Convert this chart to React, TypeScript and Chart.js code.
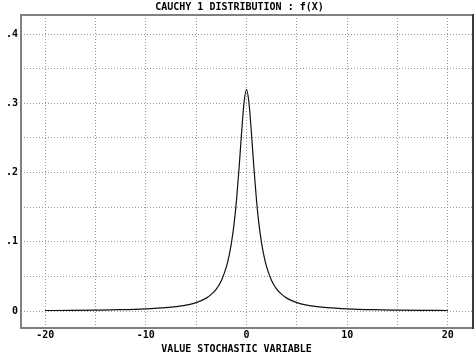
import React, { useEffect, useRef } from "react";
import { Chart, registerables } from "chart.js";

Chart.register(...registerables);

const chartTitle = "CAUCHY 1 DISTRIBUTION : f(X)";
const xAxisTitle = "VALUE STOCHASTIC VARIABLE";

const xValues = [
  -20, -17.5, -15, -12.5, -10, -8, -7, -6, -5, -4, -3.5, -3, -2.5, -2, -1.75, -1.5, -1.25, -1, -0.75, -0.5, -0.25,
  0,
  0.25, 0.5, 0.75, 1, 1.25, 1.5, 1.75, 2, 2.5, 3, 3.5, 4, 5, 6, 7, 8, 10, 12.5, 15, 17.5, 20,
];
const yValues = [
  0.0008, 0.001, 0.0014, 0.002, 0.0032, 0.0049, 0.0064, 0.0086, 0.0122, 0.0187, 0.0241, 0.0318, 0.0439, 0.0637, 0.0785, 0.098, 0.124, 0.159, 0.204, 0.255, 0.3,
  0.32,
  0.3, 0.255, 0.204, 0.159, 0.124, 0.098, 0.0785, 0.0637, 0.0439, 0.0318, 0.0241, 0.0187, 0.0122, 0.0086, 0.0064, 0.0049, 0.0032, 0.002, 0.0014, 0.001, 0.0008,
];

const xTickValues = [-20, -15, -10, -5, 0, 5, 10, 15, 20];
const xTickLabels = ["-20", "", "-10", "", "0", "", "10", "", "20"];
const yTickValues = [0, 0.05, 0.1, 0.15, 0.2, 0.25, 0.3, 0.35, 0.4];
const yTickLabels = ["0", "", ".1", "", ".2", "", ".3", "", ".4"];

const FONT = "DejaVu Sans Mono";

export default function App() {
  const ref = useRef<HTMLCanvasElement | null>(null);

  useEffect(() => {
    document.body.style.margin = "0";
    document.body.style.background = "#fff";
    const canvas = ref.current;
    if (!canvas) return;

    const framePlugin = {
      id: "frameAndTitles",
      afterDraw(chart: any) {
        const { ctx, chartArea } = chart;
        const { left, right, top, bottom } = chartArea;
        ctx.save();
        ctx.fillStyle = "#808080";
        ctx.fillRect(left - 1, top - 1, 2, bottom - top + 2);
        ctx.fillRect(left - 1, top - 1, right - left + 2, 2);
        ctx.fillRect(left - 1, bottom, right - left + 2, 2);
        ctx.fillStyle = "#3a3a3a";
        ctx.fillRect(right - 1, top - 1, 3, bottom - top + 3);
        ctx.fillStyle = "#000";
        ctx.font = `bold 10px "${FONT}"`;
        ctx.textAlign = "center";
        ctx.textBaseline = "middle";
        ctx.fillText(chartTitle, 239.5, 7);
        ctx.fillText(xAxisTitle, 236.5, 349);
        ctx.restore();
      },
    };

    const chart = new Chart(canvas, {
      type: "line",
      data: {
        datasets: [
          {
            data: xValues.map((x, i) => ({ x, y: yValues[i] })),
            borderColor: "#111",
            borderWidth: 1.2,
            pointRadius: 0,
            fill: false,
            cubicInterpolationMode: "monotone",
          },
        ],
      },
      options: {
        animation: false,
        responsive: false,
        devicePixelRatio: 1,
        layout: { padding: { top: 15, right: 1, left: 0, bottom: 0 } },
        plugins: {
          legend: { display: false },
          tooltip: { enabled: false },
          title: { display: false },
        },
        scales: {
          x: {
            type: "linear",
            min: -22.4,
            max: 22.5,
            afterBuildTicks: (axis: any) => {
              axis.ticks = xTickValues.map((v) => ({ value: v }));
            },
            afterFit: (axis: any) => {
              axis.height = 29;
            },
            ticks: {
              autoSkip: false,
              maxRotation: 0,
              padding: 2,
              color: "#000",
              font: { family: FONT, size: 10, weight: "bold" },
              callback: (v: any) => {
                const i = xTickValues.indexOf(Number(v));
                return i >= 0 ? xTickLabels[i] : "";
              },
            },
            grid: { color: "#9a9a9a", lineWidth: 1, drawTicks: false },
            border: { display: false, dash: [1, 2] },
          },
          y: {
            type: "linear",
            min: -0.023,
            max: 0.4275,
            afterBuildTicks: (axis: any) => {
              axis.ticks = yTickValues.map((v) => ({ value: v }));
            },
            afterFit: (axis: any) => {
              axis.width = 21;
            },
            ticks: {
              autoSkip: false,
              padding: 3,
              color: "#000",
              font: { family: FONT, size: 10, weight: "bold" },
              callback: (v: any) => {
                const i = yTickValues.findIndex((t) => Math.abs(t - Number(v)) < 1e-9);
                return i >= 0 ? yTickLabels[i] : "";
              },
            },
            grid: { color: "#9a9a9a", lineWidth: 1, drawTicks: false },
            border: { display: false, dash: [1, 2] },
          },
        },
      },
      plugins: [framePlugin],
    } as any);

    return () => chart.destroy();
  }, []);

  return (
    <div style={{ width: 474, height: 356, background: "#fff" }}>
      <canvas ref={ref} width={474} height={356} />
    </div>
  );
}
